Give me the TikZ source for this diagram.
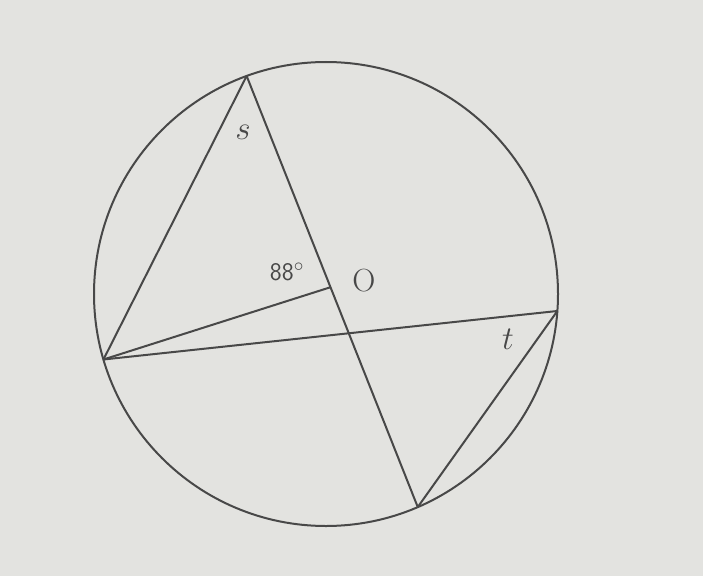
\documentclass[tikz,border=0pt]{standalone}
\usepackage{tikz}
\usetikzlibrary{calc}
\definecolor{paper}{RGB}{227,227,224}
\definecolor{ink}{RGB}{72,72,72}

\begin{document}
\begin{tikzpicture}[x=0.75pt,y=0.75pt]
 \tikzset{line/.style = {ink, line width=1.5pt}}
 \tikzset{lbl/.style = {ink, inner sep=0.75pt}}
  %Draw the paper behind
 \fill [paper] (0,0) rectangle (703,576);
 \useasboundingbox (0,0) rectangle (703,576);

 %Draw the circle
 \coordinate (ctr) at (326,282);
 \draw [line] (ctr) circle [radius=174pt];
  % Draw the points
 \coordinate (A) at ($(ctr)+(110:232)$);
 \coordinate (B) at ($(ctr)+(196.4:232)$);
 \coordinate (C) at ($(ctr)+(355.8:232)$);
 \coordinate (D) at ($(ctr)+(293.3:232)$);
 \coordinate (O) at ($(A)!0.49!(D)$);
  %Draw lines
  \draw [line] (A) -- (B);
  \draw [line] (A) -- (D);
  \draw [line] (B) -- (C);
  \draw [line] (B) -- (O);
  \draw [line] (C) -- (D);
  %Labelling
  \node [lbl] (s) at (243,444) {\fontsize{24}{28}\selectfont$s$};
  \node [lbl] (ang) at (287,304) {\fontsize{19}{22}\selectfont\sffamily 88$^{\circ}$};
  \node [lbl] (o) at (364,295) {\fontsize{24}{28}\selectfont O};
  \node [lbl] (t) at (508,237) {\fontsize{24}{28}\selectfont$t$};

\end{tikzpicture}
\end{document}
